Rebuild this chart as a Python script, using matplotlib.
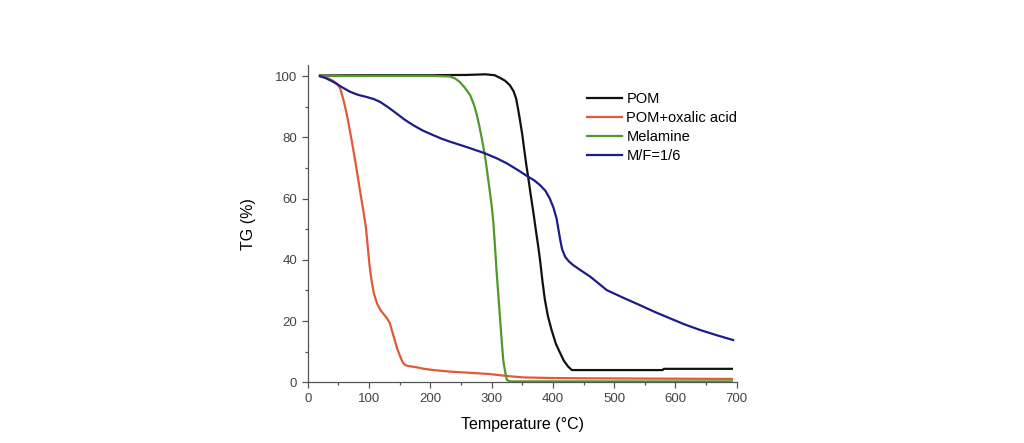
#!/usr/bin/env python3

import numpy as np
from matplotlib import pyplot as plt

# TG curves (temperature in C, mass in %)
pom_t = [20, 100, 200, 260, 290, 305, 314, 322, 330, 336, 340, 343, 346, 350, 353, 357, 360, 364, 368, 372,
         376, 379, 383, 387, 392, 398, 405, 412, 418, 425, 431, 500, 579, 581, 692]
pom_w = [100.2, 100.3, 100.3, 100.4, 100.6, 100.3, 99.4, 98.5, 97, 95, 92.7, 89.5, 86, 81, 76.4, 70.5, 66.6, 61, 55.7, 50,
         44.5, 40, 33, 26.9, 21.5, 17, 12.5, 9.5, 7, 5.1, 4.0, 4.0, 4.0, 4.4, 4.4]

oxa_t = [20, 30, 36, 42, 48, 53, 58, 64, 69, 74, 79, 83, 87, 91, 95, 99, 101, 104, 108, 113, 118, 123, 129, 134,
         138, 142, 146, 151, 155, 159, 165, 178, 190, 205, 232, 265, 297, 325, 352, 400, 461, 692]
oxa_w = [100, 99.5, 99, 98.4, 97.5, 96, 92.5, 87.3, 82, 76.4, 70.5, 65.5, 60.5, 55.7, 50.5, 42.1, 38, 33.4, 29, 25.8, 23.8, 22.5, 21, 19.3,
         16.5, 13.8, 11, 8.4, 6.5, 5.6, 5.3, 4.9, 4.4, 4.0, 3.5, 3.1, 2.7, 2.05, 1.6, 1.4, 1.3, 1.1]

mel_t = [20, 100, 200, 232, 240, 248, 256, 265, 271, 276, 280, 284, 289, 292, 295, 300, 303, 305.5, 308, 311,
         314, 316.5, 319, 322, 325, 330, 450, 692]
mel_w = [100, 100.1, 100.1, 99.9, 99.3, 98.1, 96.3, 93.8, 90.8, 87.3, 83.7, 79.7, 74.2, 70, 65.5, 57.9, 52, 44.5, 36.7, 28.5,
         20.3, 13.5, 7.3, 3.5, 0.75, 0.3, 0.3, 0.3]

mf_t = [20, 30, 42, 55, 69, 82, 96, 108, 118, 130, 145, 158, 172, 188, 205, 218, 232, 260, 289, 308, 325, 343, 360,
        370, 379, 388, 395, 401, 406, 409, 412, 415, 420, 426, 433, 446, 461, 488, 515, 542, 566, 591, 615, 640, 667, 694]
mf_w = [100, 99.3, 98.1, 96.5, 94.9, 93.9, 93.2, 92.5, 91.6, 90, 87.8, 85.8, 84, 82.2, 80.7, 79.6, 78.6, 76.8, 74.8, 73.2, 71.5, 69.3, 67.1,
        65.9, 64.4, 62.5, 60, 57, 53.5, 50, 46.5, 43.5, 41, 39.5, 38.3, 36.5, 34.5, 30.1, 27.6, 25.2, 23, 20.9, 18.9, 17.1, 15.4, 13.8]

labels = ['POM', 'POM+oxalic acid', 'Melamine', 'M/F=1/6']
colors = ['#111111', '#e05a38', '#4f9a2a', '#1c1c8a']

if __name__ == '__main__':
  plt.rcParams['font.family'] = ['Liberation Sans', 'DejaVu Sans']

  fig = plt.figure(figsize=(10.24, 4.43), dpi=100)
  ax = fig.add_axes([0.3005, 0.137, 0.419, 0.716])

  for (t, w), lab, c in zip([(pom_t, pom_w), (oxa_t, oxa_w), (mel_t, mel_w), (mf_t, mf_w)], labels, colors):
    ax.plot(t, w, color=c, lw=1.6, label=lab, clip_on=False, solid_joinstyle='round')

  ax.set_xlim(0, 700)
  ax.set_ylim(0, 103.6)
  ax.set_xticks(np.arange(0, 701, 100))
  ax.set_xticks(np.arange(50, 701, 100), minor=True)
  ax.set_yticks(np.arange(0, 101, 20))
  ax.set_yticks(np.arange(10, 101, 20), minor=True)
  for s in ['top', 'right']:
    ax.spines[s].set_visible(False)
  for s in ['left', 'bottom']:
    ax.spines[s].set_color('#555555')
    ax.spines[s].set_linewidth(0.9)
  ax.tick_params(which='major', length=4, width=0.9, color='#555555', labelsize=9.5, labelcolor='#444444')
  ax.tick_params(which='minor', length=2.5, width=0.9, color='#555555')

  ax.set_xlabel('Temperature (°C)', fontsize=11.5, labelpad=9)
  ax.set_ylabel('TG (%)', fontsize=11.5, labelpad=14)

  ax.legend(loc='upper left', bbox_to_anchor=(0.651, 0.915), frameon=False, fontsize=10.5,
            handlelength=2.4, handletextpad=0.3, labelspacing=0.35, borderpad=0, borderaxespad=0)

  plt.savefig('out.png', dpi=100)
